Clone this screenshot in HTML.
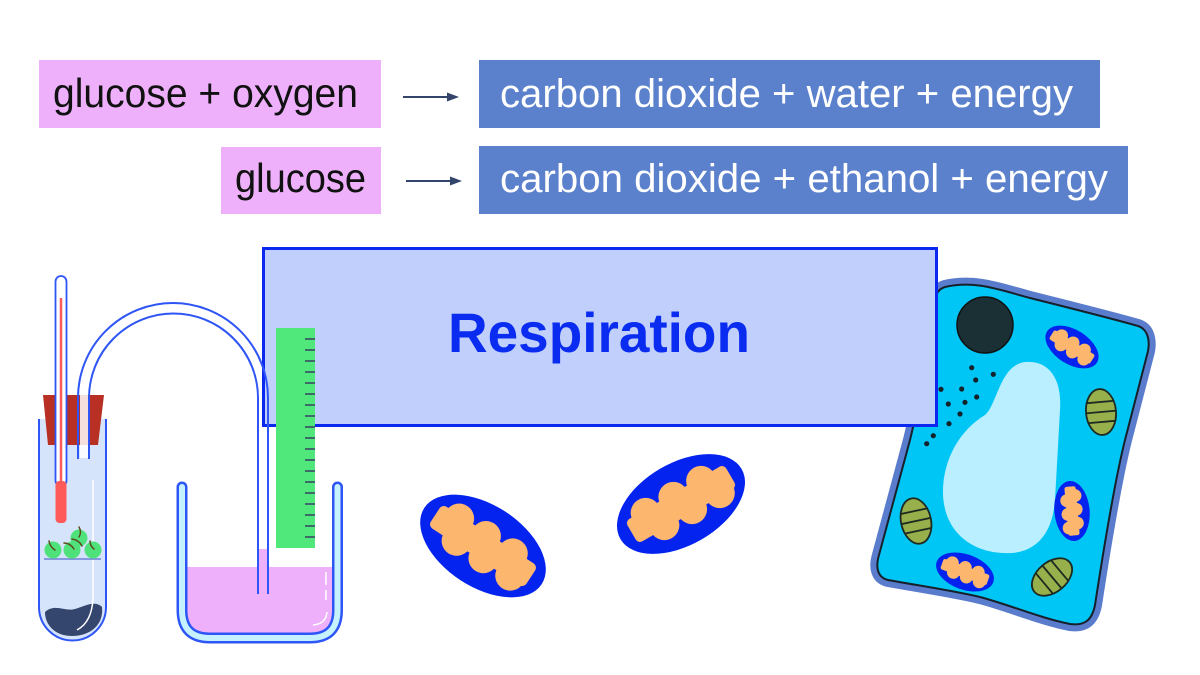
<!DOCTYPE html>
<html>
<head>
<meta charset="utf-8">
<style>
  html,body{margin:0;padding:0;background:#fff;}
  svg{display:block;}
  text{font-family:"Liberation Sans", Arial, sans-serif;}
</style>
</head>
<body>
<svg width="1200" height="675" viewBox="0 0 1200 675" xmlns="http://www.w3.org/2000/svg">
  <defs>
    <clipPath id="chl"><ellipse cx="0" cy="0" rx="15" ry="23"/></clipPath>
    <g id="orange">
      <rect x="-57" y="-13" width="114" height="26" rx="5" fill="#fdb66e"/>
      <circle cx="-35" cy="-10" r="15" fill="#fdb66e"/>
      <circle cx="-3" cy="-10" r="15" fill="#fdb66e"/>
      <circle cx="29" cy="-10" r="15" fill="#fdb66e"/>
      <circle cx="-25" cy="10" r="15" fill="#fdb66e"/>
      <circle cx="7" cy="10" r="15" fill="#fdb66e"/>
      <circle cx="39" cy="10" r="15" fill="#fdb66e"/>
    </g>
    <g id="mito">
      <ellipse cx="0" cy="0" rx="70" ry="41" fill="#0423ee"/>
      <use href="#orange"/>
    </g>
    <g id="chloro">
      <g clip-path="url(#chl)">
        <ellipse cx="0" cy="0" rx="15" ry="23" fill="#97b04b"/>
        <line x1="-16" y1="-10" x2="16" y2="-10" stroke="#1d2a22" stroke-width="1.8"/>
        <line x1="-16" y1="0" x2="16" y2="0" stroke="#1d2a22" stroke-width="1.8"/>
        <line x1="-16" y1="10" x2="16" y2="10" stroke="#1d2a22" stroke-width="1.8"/>
      </g>
      <ellipse cx="0" cy="0" rx="15" ry="23" fill="none" stroke="#1d2a22" stroke-width="1.8"/>
    </g>
  </defs>

  <!-- Top equations -->
  <rect x="39" y="60" width="342" height="68" fill="#eeb0fb"/>
  <text x="53" y="107" font-size="41" fill="#111" textLength="305" lengthAdjust="spacingAndGlyphs">glucose + oxygen</text>
  <rect x="221" y="147" width="160" height="67" fill="#eeb0fb"/>
  <text x="235" y="192" font-size="41" fill="#111" textLength="131" lengthAdjust="spacingAndGlyphs">glucose</text>

  <line x1="403" y1="97" x2="450" y2="97" stroke="#33456a" stroke-width="2"/>
  <polygon points="459,97 447,92.5 447,101.5" fill="#33456a"/>
  <line x1="406" y1="181" x2="453" y2="181" stroke="#33456a" stroke-width="2"/>
  <polygon points="462,181 450,176.5 450,185.5" fill="#33456a"/>

  <rect x="479" y="60" width="621" height="68" fill="#5b80cc"/>
  <text x="500" y="107" font-size="40" fill="#fff" textLength="573" lengthAdjust="spacingAndGlyphs">carbon dioxide + water + energy</text>
  <rect x="479" y="146" width="649" height="68" fill="#5b80cc"/>
  <text x="500" y="192" font-size="40" fill="#fff" textLength="608" lengthAdjust="spacingAndGlyphs">carbon dioxide + ethanol + energy</text>

  <!-- Plant cell (under the Respiration box) -->
  <path d="M945,287 C975,280 1000,290 1030,298 C1070,308 1110,318 1138,326 C1150,330 1150,345 1147,355 L1125,440 C1115,480 1105,540 1095,605 C1092,620 1085,626 1070,624 C1040,618 1010,605 980,597 C950,590 915,585 888,580 C876,577 876,565 879,555 L910,440 C920,400 928,340 933,305 C935,295 938,289 945,287 Z" fill="none" stroke="#5a7ccc" stroke-width="14" stroke-linejoin="round"/>
  <path d="M945,287 C975,280 1000,290 1030,298 C1070,308 1110,318 1138,326 C1150,330 1150,345 1147,355 L1125,440 C1115,480 1105,540 1095,605 C1092,620 1085,626 1070,624 C1040,618 1010,605 980,597 C950,590 915,585 888,580 C876,577 876,565 879,555 L910,440 C920,400 928,340 933,305 C935,295 938,289 945,287 Z" fill="#00c6f6" stroke="#16202a" stroke-width="2"/>
  <path d="M1025,362 C1050,360 1062,380 1060,410 L1055,500 C1052,540 1030,555 1003,553 C975,552 945,535 943,495 C942,460 960,430 985,415 C997,405 1000,365 1025,362 Z" fill="#b9efff"/>
  <circle cx="985" cy="325" r="28" fill="#1b3035" stroke="#111" stroke-width="1.5"/>
  <g fill="#14222a">
    <circle cx="971.7" cy="367.7" r="2.6"/><circle cx="993.3" cy="374.3" r="2.6"/>
    <circle cx="975.7" cy="380" r="2.6"/><circle cx="941" cy="389.3" r="2.6"/>
    <circle cx="961.7" cy="389" r="2.6"/><circle cx="976.7" cy="397" r="2.6"/>
    <circle cx="948.3" cy="404" r="2.6"/><circle cx="965" cy="402.3" r="2.6"/>
    <circle cx="960" cy="414" r="2.6"/><circle cx="949" cy="423.7" r="2.6"/>
    <circle cx="933.3" cy="435.7" r="2.6"/><circle cx="926.7" cy="443.7" r="2.6"/>
  </g>
  <g transform="translate(1072,347) rotate(32) scale(0.42)"><use href="#mito"/></g>
  <g transform="translate(1072,511) rotate(85) scale(0.43)"><use href="#mito"/></g>
  <g transform="translate(965,572) rotate(20) scale(0.43)"><use href="#mito"/></g>
  <g transform="translate(1101,412) rotate(-5)"><use href="#chloro"/></g>
  <g transform="translate(916,521) rotate(-12)"><use href="#chloro"/></g>
  <g transform="translate(1052,577) rotate(50)"><use href="#chloro"/></g>

  <!-- Respiration box -->
  <rect x="263.5" y="248.5" width="673" height="177" fill="#c0cffc" stroke="#0a28f0" stroke-width="3"/>
  <text x="448" y="352" font-size="56" font-weight="bold" fill="#0a2cf0" textLength="302" lengthAdjust="spacingAndGlyphs">Respiration</text>

  <!-- Test tube -->
  <path d="M39,419 L39,607 A33.5,33.5 0 0 0 106,607 L106,419" fill="#d6e4fb" stroke="#2e55f5" stroke-width="2"/>
  <path d="M45,612 C55,603 65,612 75,609 C85,606 95,600 102,607 C104,625 90,636 72,636 C55,636 45,625 45,612 Z" fill="#34456e"/>
  <path d="M93,480 L93,598 Q92,622 77,630" fill="none" stroke="#fff" stroke-width="1.5"/>
  <line x1="44" y1="559" x2="101" y2="559" stroke="#6f82d6" stroke-width="1.5"/>
  <g fill="#4fe27b">
    <circle cx="53" cy="550" r="8.5"/>
    <circle cx="79" cy="538" r="8.5"/>
    <circle cx="72" cy="550" r="8.5"/>
    <circle cx="93" cy="550" r="8.5"/>
  </g>
  <g fill="none" stroke="#5d4a1e" stroke-width="1.5" stroke-linecap="round">
    <path d="M49,541 Q50,547 55,550"/>
    <path d="M79,527 Q82,532 79,537"/>
    <path d="M64,543 Q70,543 74,549"/>
    <path d="M72,539 Q79,540 82,546"/>
    <path d="M90,541 Q90,546 94,549"/>
  </g>

  <!-- Stopper -->
  <polygon points="43,395 104,395 98,445 48,445" fill="#b83024"/>

  <!-- Delivery tube -->
  <path d="M78,459 L78,398 A95,95 0 0 1 268,398 L268,594" fill="none" stroke="#2e55f5" stroke-width="2"/>
  <path d="M89,459 L89,398 A84.5,84.5 0 0 1 258,398 L258,594" fill="none" stroke="#2e55f5" stroke-width="2"/>
  <rect x="80" y="395" width="8" height="63" fill="#fff" opacity="0.85"/>

  <!-- Thermometer -->
  <rect x="55.5" y="276" width="11" height="210" rx="5.5" fill="#fff" stroke="#2e55f5" stroke-width="1.8"/>
  <line x1="61" y1="298" x2="61" y2="484" stroke="#ff5a5a" stroke-width="2.5"/>
  <rect x="55.5" y="481" width="11" height="42" rx="4" fill="#ff5a5a"/>

  <!-- Ruler -->
  <rect x="276" y="328" width="39" height="220" fill="#50e87b"/>
  <g stroke="#3d6a6a" stroke-width="2">
    <line x1="305" y1="339" x2="315" y2="339"/><line x1="305" y1="350" x2="315" y2="350"/>
    <line x1="305" y1="361" x2="315" y2="361"/><line x1="305" y1="372" x2="315" y2="372"/>
    <line x1="305" y1="383" x2="315" y2="383"/><line x1="305" y1="394" x2="315" y2="394"/>
    <line x1="305" y1="405" x2="315" y2="405"/><line x1="305" y1="416" x2="315" y2="416"/>
    <line x1="305" y1="427" x2="315" y2="427"/><line x1="305" y1="438" x2="315" y2="438"/>
    <line x1="305" y1="449" x2="315" y2="449"/><line x1="305" y1="460" x2="315" y2="460"/>
    <line x1="305" y1="471" x2="315" y2="471"/><line x1="305" y1="482" x2="315" y2="482"/>
    <line x1="305" y1="493" x2="315" y2="493"/><line x1="305" y1="504" x2="315" y2="504"/>
    <line x1="305" y1="515" x2="315" y2="515"/><line x1="305" y1="526" x2="315" y2="526"/>
    <line x1="305" y1="537" x2="315" y2="537"/>
  </g>

  <!-- Beaker -->
  <path d="M186,567 L334,567 L334,610 Q334,634 309,634 L210,634 Q186,634 186,610 Z" fill="#eeb0fb"/>
  <rect x="259" y="549" width="8" height="20" fill="#eeb0fb"/>
  <path d="M182,487 L182,610 Q182,638 210,638 L310,638 Q337.5,638 337.5,610 L337.5,487" fill="none" stroke="#2e55f5" stroke-width="11" stroke-linecap="round" stroke-linejoin="round"/>
  <path d="M182,487 L182,610 Q182,638 210,638 L310,638 Q337.5,638 337.5,610 L337.5,487" fill="none" stroke="#c6f2ff" stroke-width="6" stroke-linecap="round" stroke-linejoin="round"/>
  <path d="M326,572 L326,585 M326,590 L326,600 M313,625 Q326,624 327,612" fill="none" stroke="#fff" stroke-width="1.5"/>
  <line x1="258" y1="540" x2="258" y2="594" stroke="#2e55f5" stroke-width="2"/>
  <line x1="268" y1="540" x2="268" y2="594" stroke="#2e55f5" stroke-width="2"/>

  <!-- Free mitochondria -->
  <g transform="translate(483,546) rotate(33)"><use href="#mito"/></g>
  <g transform="translate(681,504) rotate(-30)"><use href="#mito"/></g>
</svg>
</body>
</html>
